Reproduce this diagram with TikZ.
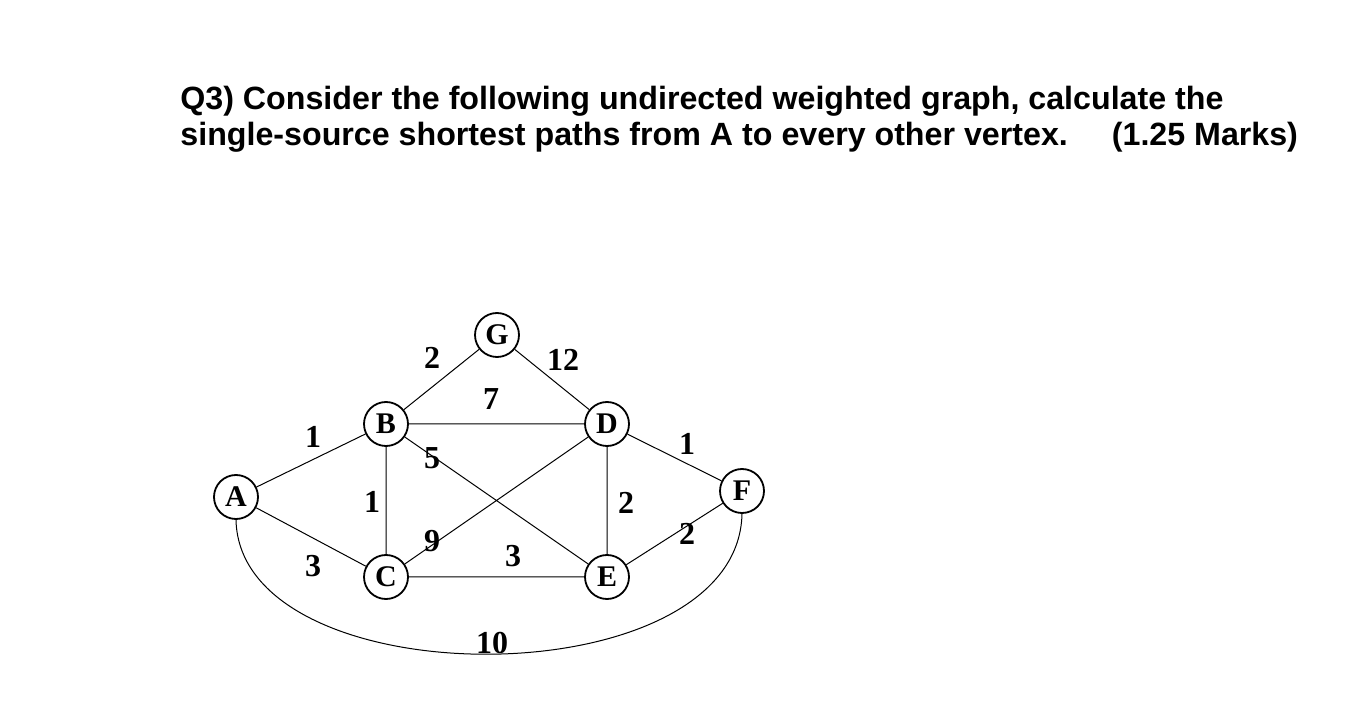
\documentclass[tikz,border=0pt]{standalone}
\usepackage{fontspec}
\setmainfont{Liberation Serif}
\newfontfamily\hdfont{Liberation Sans}
\begin{document}
\begin{tikzpicture}[x=0.5pt,y=-0.5pt,
  vtx/.style={circle,draw,line width=0.9pt,minimum size=22pt,inner sep=0pt,font=\fontsize{15}{15}\selectfont\bfseries},
  wt/.style={font=\fontsize{16}{16}\selectfont\bfseries},
  edge/.style={line width=0.5pt}]
\useasboundingbox (0,0) rectangle (1361,716);
\node[anchor=base west,inner sep=0pt,font=\hdfont\fontsize{16.1}{18}\selectfont\bfseries] (t1) at (180,110) {Q3) Consider the following undirected weighted graph, calculate the};
\node[anchor=base west,inner sep=0pt,font=\hdfont\fontsize{16.1}{18}\selectfont\bfseries] (t2) at (180,146) {single-source shortest paths from A to every other vertex.\hspace{22pt}(1.25 Marks)};
\node[vtx] (A) at (236,497) {A};
\node[vtx] (B) at (386,424) {B};
\node[vtx] (C) at (386,577) {C};
\node[vtx] (G) at (497,335) {G};
\node[vtx] (D) at (607,424) {D};
\node[vtx] (E) at (607,577) {E};
\node[vtx] (F) at (742,491) {F};
\draw[edge] (A)--(B) (A)--(C) (B)--(C) (B)--(G) (G)--(D) (B)--(D) (B)--(E) (C)--(D) (C)--(E) (D)--(E) (D)--(F) (E)--(F);
\draw[edge] (A.south) .. controls (240,700) and (738,700) .. (F.south);
\node[wt] (w1) at (313,437) {1};
\node[wt] (w2) at (313,566) {3};
\node[wt] (w3) at (432,358) {2};
\node[wt] (w4) at (563,360) {12};
\node[wt] (w5) at (491,399) {7};
\node[wt] (w6) at (432,458) {5};
\node[wt] (w7) at (432,541) {9};
\node[wt] (w8) at (372,502) {1};
\node[wt] (w9) at (513,556) {3};
\node[wt] (w10) at (626,503) {2};
\node[wt] (w11) at (687,444) {1};
\node[wt] (w12) at (687,534) {2};
\node[wt] (w13) at (492,643) {10};
\end{tikzpicture}
\end{document}
